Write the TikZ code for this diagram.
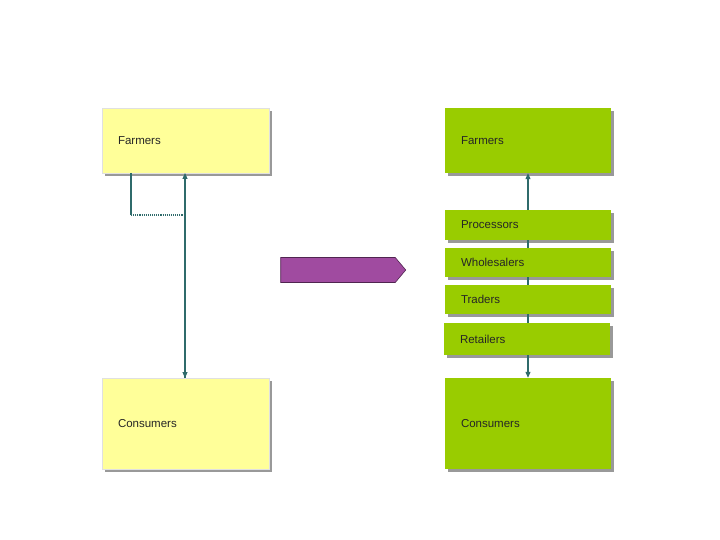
\documentclass[tikz,border=0pt]{standalone}
\usepackage{fontspec}
\setmainfont{Liberation Sans}
\usetikzlibrary{arrows.meta,shapes.arrows,shadows}
\definecolor{ylw}{HTML}{FFFF99}
\definecolor{grn}{HTML}{99CC00}
\definecolor{cn}{HTML}{2F6B6B}
\definecolor{pur}{HTML}{A04BA0}
\begin{document}
\begin{tikzpicture}[x=1pt,y=-1pt,
 box/.style={minimum width=#1,text width=#1-32pt,align=left,inner xsep=16pt,inner ysep=0pt,anchor=center,
   font=\fontsize{11.5}{13}\selectfont,text=black!85,
   drop shadow={shadow xshift=3pt,shadow yshift=-3pt,fill=black!40,opacity=1}},
 yb/.style={box=#1,fill=ylw,draw=black!12},
 gb/.style={box=#1,fill=grn},
 con/.style={draw=cn,line width=1.1pt},
 tip/.style={-{Triangle[length=6pt,width=5pt]}}]
\useasboundingbox (0,0) rectangle (720,540);
\node[yb=167pt,minimum height=65pt] (lf) at (185.5,140.5) {Farmers};
\node[yb=167pt,minimum height=91pt] (lc) at (185.5,423.5) {Consumers};
\node[gb=166pt,minimum height=65pt] (rf) at (528,140.5) {Farmers};
\node[gb=166pt,minimum height=30pt] (pr) at (528,225) {Processors};
\node[gb=166pt,minimum height=29pt] (wh) at (528,262.5) {Wholesalers};
\node[gb=166pt,minimum height=29pt] (tr) at (528,299.5) {Traders};
\node[gb=166pt,minimum height=32pt] (re) at (527,339) {Retailers};
\node[gb=166pt,minimum height=91pt] (rc) at (528,423.5) {Consumers};
% left connectors
\coordinate (lft) at (185,173);
\coordinate (lcb) at (185,378);
\coordinate (dk) at (131,215);
\coordinate (dk2) at (185,215);
\draw[con,tip] (lcb) -- (lft);
\draw[con,tip] (dk2) -- (lcb);
\draw[con] (131,173) -- (dk);
\draw[con,densely dotted] (dk) -- (dk2);
% right connectors
\draw[con,tip] (pr.north -| rf.south) -- (rf.south);
\draw[con] (pr.south -| rf.south) -- (wh.north -| rf.south);
\draw[con] (wh.south -| rf.south) -- (tr.north -| rf.south);
\draw[con] (tr.south -| rf.south) -- (re.north -| rf.south);
\draw[con,tip] (re.south -| rf.south) -- (rc.north -| rf.south);
% big arrow
\node[single arrow,fill=pur,draw=pur!50!black,line width=0.6pt,minimum height=125pt,minimum width=25pt,
  single arrow head extend=0pt,single arrow tip angle=100,inner sep=0pt,shape border rotate=0] (ba) at (338,270) {};
\end{tikzpicture}
\end{document}
